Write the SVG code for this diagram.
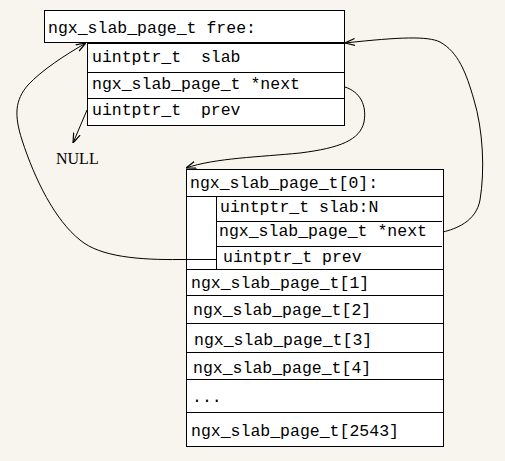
<svg xmlns="http://www.w3.org/2000/svg" width="505" height="461" viewBox="0 0 505 461">
<defs>
<style>
.bg{fill:#F8F5EE}
.box{fill:#FFFFFF;stroke:#000;stroke-width:1}
.ln{stroke:#000;stroke-width:1;fill:none}
.t{font-family:"Liberation Mono","DejaVu Sans Mono",monospace;font-size:16.5px;fill:#000;white-space:pre}
.nul{font-family:"Liberation Serif",serif;font-size:16px;fill:#000}
.conn{stroke:#000;stroke-width:1;fill:none;marker-end:url(#arr)}
</style>
<marker id="arr" viewBox="0 0 10 10" refX="10" refY="5" markerWidth="10" markerHeight="10" markerUnits="userSpaceOnUse" orient="auto">
<path d="M0,1.5 L10,5 L0,8.5" fill="none" stroke="#000" stroke-width="1.2"/>
</marker>
</defs>
<rect class="bg" x="0" y="0" width="505" height="461"/>

<g id="free">
<rect class="box" x="44.5" y="10.5" width="300" height="32"/>
<rect class="box" x="87.5" y="43.5" width="257" height="82"/>
<line class="ln" x1="87" y1="72.5" x2="344" y2="72.5"/>
<line class="ln" x1="87" y1="98.5" x2="344" y2="98.5"/>
<text class="t" x="48" y="33" xml:space="preserve">ngx_slab_page_t free:</text>
<text class="t" x="92" y="62" xml:space="preserve">uintptr_t  slab</text>
<text class="t" x="92" y="89" xml:space="preserve">ngx_slab_page_t *next</text>
<text class="t" x="92" y="115" xml:space="preserve">uintptr_t  prev</text>
</g>

<g id="null">
<text class="nul" x="56" y="164">NULL</text>
</g>

<g id="pages">
<rect class="box" x="186.5" y="169.5" width="257" height="277"/>
<line class="ln" x1="186" y1="196.5" x2="443" y2="196.5"/>
<line class="ln" x1="216.5" y1="196" x2="216.5" y2="269"/>
<line class="ln" x1="216" y1="221.5" x2="442" y2="221.5"/>
<line class="ln" x1="216" y1="246.5" x2="442" y2="246.5"/>
<line class="ln" x1="186" y1="269.5" x2="443" y2="269.5"/>
<line class="ln" x1="186" y1="295.5" x2="443" y2="295.5"/>
<line class="ln" x1="186" y1="323.5" x2="443" y2="323.5"/>
<line class="ln" x1="186" y1="352.5" x2="443" y2="352.5"/>
<line class="ln" x1="186" y1="379.5" x2="443" y2="379.5"/>
<line class="ln" x1="186" y1="412.5" x2="443" y2="412.5"/>
<text class="t" x="190" y="188">ngx_slab_page_t[0]:</text>
<text class="t" x="220" y="212">uintptr_t slab:N</text>
<text class="t" x="219" y="236">ngx_slab_page_t *next</text>
<text class="t" x="223" y="262">uintptr_t prev</text>
<text class="t" x="191" y="288">ngx_slab_page_t[1]</text>
<text class="t" x="193" y="315">ngx_slab_page_t[2]</text>
<text class="t" x="194" y="345">ngx_slab_page_t[3]</text>
<text class="t" x="193" y="373">ngx_slab_page_t[4]</text>
<text class="t" x="192" y="402">...</text>
<text class="t" x="191" y="436">ngx_slab_page_t[2543]</text>
</g>

<g id="connectors">
<path class="conn" d="M443,232 C455,229 476,222 480,200 C485,170 483,130 474,100 C466,72 458,52 440,42 C428,36 400,37 345,43"/>
<path class="conn" d="M345,87 C360,92 367,105 364,122 C360,140 340,148 300,153 C260,157 215,158 186,168"/>
<path class="conn" d="M216,259.5 L180,259.5 C140,260 100,257 80,240 C55,220 35,180 22,140 C14,115 15,100 28,85 C42,70 65,55 86,43"/>
<path class="conn" d="M87,110 L73,143"/>
</g>
</svg>
